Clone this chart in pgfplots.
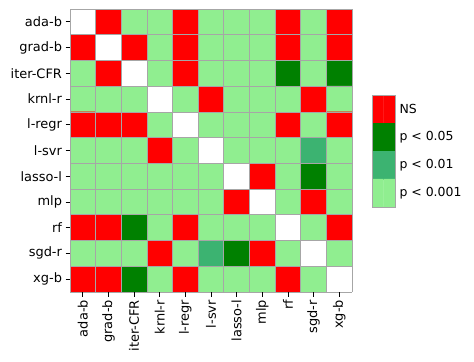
\documentclass[border=0pt]{standalone}
\usepackage{pgfplots}
\pgfplotsset{compat=1.18}
\usepackage{fontspec}
\setmainfont{DejaVu Sans}
\begin{document}
\begin{tikzpicture}[x=1bp,y=1bp, font=\fontsize{13}{15}\selectfont]
\useasboundingbox (0,0) rectangle (474,361);
\pgfplotsset{
  colormap={sig}{rgb255=(255,255,255) rgb255=(255,0,0) rgb255=(0,128,0) rgb255=(60,179,113) rgb255=(144,238,144)},
}
% codes: 0 = diagonal, 1 = NS, 2 = p<0.05, 3 = p<0.01, 4 = p<0.001
\begin{axis}[
  at={(70bp,69bp)}, anchor=south west,
  width=282bp, height=283bp, scale only axis,
  colormap name=sig, colormap access=direct,
  xmin=-0.5, xmax=10.5, ymin=-0.5, ymax=10.5,
  y dir=reverse,
  axis line style={draw=none},
  axis on top,
  xtick={0,...,10}, ytick={0,...,10},
  minor xtick={-0.5,0.5,...,10.5}, minor ytick={-0.5,0.5,...,10.5},
  minor tick length=0pt,
  minor grid style={draw=black!35, line width=0.8pt},
  xminorgrids=true, yminorgrids=true,
  xticklabels={ada-b,grad-b,iter-CFR,krnl-r,l-regr,l-svr,lasso-l,mlp,rf,sgd-r,xg-b},
  yticklabels={ada-b,grad-b,iter-CFR,krnl-r,l-regr,l-svr,lasso-l,mlp,rf,sgd-r,xg-b},
  tick label style={font=\fontsize{13}{15}\selectfont},
  xticklabel style={rotate=90, anchor=east},
  xtick pos=bottom, ytick pos=left,
  tick align=outside, major tick length=4.5bp,
  major tick style={black, line width=0.8pt},
]
\addplot[matrix plot*, mesh/cols=11, point meta=explicit] table[meta=c] {
x y c
0 0 0
1 0 1
2 0 4
3 0 4
4 0 1
5 0 4
6 0 4
7 0 4
8 0 1
9 0 4
10 0 1
0 1 1
1 1 0
2 1 1
3 1 4
4 1 1
5 1 4
6 1 4
7 1 4
8 1 1
9 1 4
10 1 1
0 2 4
1 2 1
2 2 0
3 2 4
4 2 1
5 2 4
6 2 4
7 2 4
8 2 2
9 2 4
10 2 2
0 3 4
1 3 4
2 3 4
3 3 0
4 3 4
5 3 1
6 3 4
7 3 4
8 3 4
9 3 1
10 3 4
0 4 1
1 4 1
2 4 1
3 4 4
4 4 0
5 4 4
6 4 4
7 4 4
8 4 1
9 4 4
10 4 1
0 5 4
1 5 4
2 5 4
3 5 1
4 5 4
5 5 0
6 5 4
7 5 4
8 5 4
9 5 3
10 5 4
0 6 4
1 6 4
2 6 4
3 6 4
4 6 4
5 6 4
6 6 0
7 6 1
8 6 4
9 6 2
10 6 4
0 7 4
1 7 4
2 7 4
3 7 4
4 7 4
5 7 4
6 7 1
7 7 0
8 7 4
9 7 1
10 7 4
0 8 1
1 8 1
2 8 2
3 8 4
4 8 1
5 8 4
6 8 4
7 8 4
8 8 0
9 8 4
10 8 1
0 9 4
1 9 4
2 9 4
3 9 1
4 9 4
5 9 3
6 9 2
7 9 1
8 9 4
9 9 0
10 9 4
0 10 1
1 10 1
2 10 2
3 10 4
4 10 1
5 10 4
6 10 4
7 10 4
8 10 1
9 10 4
10 10 0
};
\end{axis}
% colour key
\begin{axis}[
  at={(372bp,154bp)}, anchor=south west,
  width=23bp, height=112bp, scale only axis,
  colormap name=sig, colormap access=direct,
  xmin=-0.5, xmax=1.5, ymin=-0.5, ymax=3.5,
  y dir=reverse,
  axis on top,
  axis line style={draw=black!35, line width=0.8pt},
  xtick=\empty,
  ytick={0,1,2,3},
  yticklabels={NS,{p < 0.05},{p < 0.01},{p < 0.001}},
  ytick pos=right, major tick length=0pt,
  yticklabel style={font=\fontsize{12.5}{14}\selectfont, xshift=1bp},
]
\addplot[matrix plot*, mesh/cols=2, point meta=explicit] table[meta=c] {
x y c
0 0 1
1 0 1
0 1 2
1 1 2
0 2 3
1 2 3
0 3 4
1 3 4
};
\end{axis}
\end{tikzpicture}
\end{document}
